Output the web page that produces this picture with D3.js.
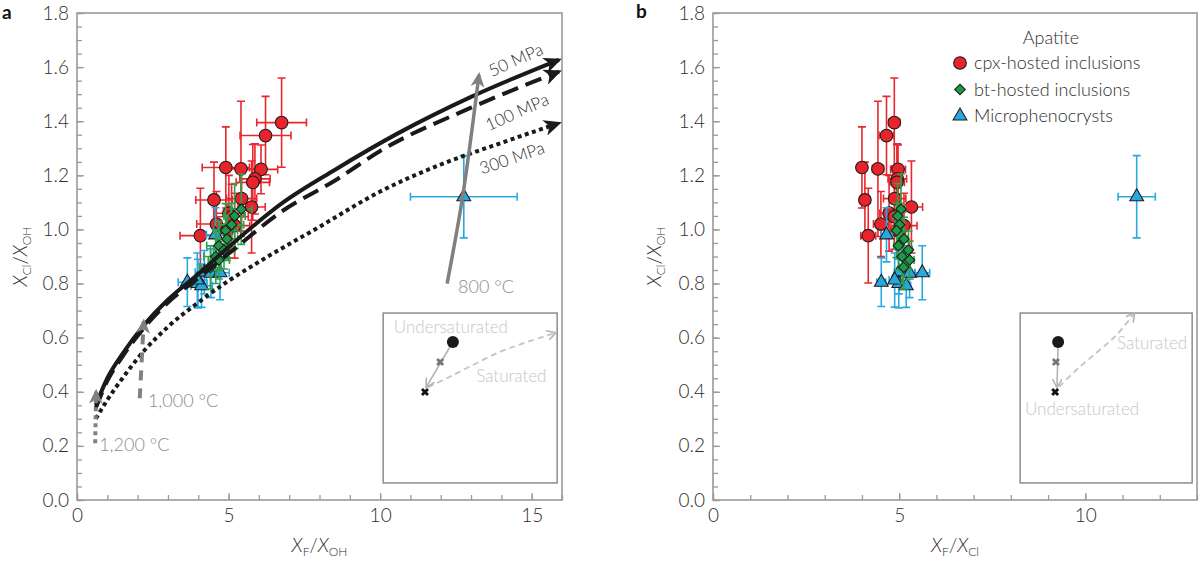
<!DOCTYPE html>
<html>
<head>
<meta charset="utf-8">
<script src="https://cdn.jsdelivr.net/npm/d3@7/dist/d3.min.js"></script>
<style>
  body { margin: 0; background: #fff; }
  svg text { font-family: Lato, "Open Sans", sans-serif; font-weight: 300; }
</style>
</head>
<body>
<svg id="chart" width="1200" height="561"></svg>
<script>
// ---- axis ticks ----
const yTicks = [0, 0.2, 0.4, 0.6, 0.8, 1.0, 1.2, 1.4, 1.6, 1.8];
const yMinor = d3.range(0, 37).map(i => i * 0.05);
const xTicksA = [0, 5, 10, 15];
const xMinorA = d3.range(0, 17);
const xTicksB = [0, 5, 10];
const xMinorB = d3.range(0, 14);

// ---- apatite, cpx-hosted inclusions ----
const cpxClOH    = [1.395, 1.347, 1.229, 1.224, 1.222, 1.187, 1.174, 1.109, 1.114, 1.083, 1.060, 1.047, 1.020, 1.014, 0.977, 0.995];
const cpxClOHErr = [0.165, 0.145, 0.15, 0.25, 0.09, 0.13, 0.14, 0.14, 0.12, 0.17, 0.14, 0.12, 0.12, 0.12, 0.175, 0.10];
const cpxFOH     = [6.75, 6.22, 4.91, 5.41, 6.07, 5.87, 5.80, 4.52, 5.43, 5.76, 5.01, 5.10, 4.60, 5.20, 4.07, 4.95];
const cpxFOHErr  = [0.82, 0.84, 0.78, 0.60, 0.55, 0.50, 0.55, 0.60, 0.50, 0.45, 0.50, 0.55, 0.65, 0.50, 0.67, 0.45];
const cpxFCl     = [4.87, 4.66, 4.00, 4.43, 4.97, 4.95, 4.94, 4.08, 4.88, 5.33, 4.73, 4.87, 4.51, 5.13, 4.17, 4.97];
const cpxFClErr  = [0.15, 0.20, 0.12, 0.15, 0.20, 0.25, 0.20, 0.13, 0.30, 0.30, 0.25, 0.20, 0.20, 0.35, 0.20, 0.20];

// ---- apatite, bt-hosted inclusions ----
const btClOH    = [1.075, 1.050, 1.017, 0.996, 0.965, 0.940, 0.924, 0.900, 0.887, 0.860];
const btClOHErr = [0.13, 0.12, 0.08, 0.10, 0.08, 0.09, 0.07, 0.10, 0.07, 0.08];
const btFOH     = [5.42, 5.20, 5.10, 4.90, 4.95, 4.68, 4.85, 4.58, 4.68, 4.40];
const btFOHErr  = [0.35, 0.35, 0.40, 0.40, 0.35, 0.40, 0.35, 0.40, 0.35, 0.35];
const btFCl     = [5.05, 4.96, 5.01, 4.93, 5.13, 4.98, 5.25, 5.08, 5.28, 5.12];
const btFClErr  = [0.12, 0.12, 0.12, 0.10, 0.10, 0.12, 0.10, 0.10, 0.12, 0.10];

// ---- apatite microphenocrysts ----
const micClOH    = [0.980, 0.842, 0.838, 0.840, 0.805, 0.800, 0.792, 0.813, 1.121];
const micClOHErr = [0.10, 0.08, 0.09, 0.10, 0.09, 0.09, 0.08, 0.10, 0.152];
const micFOH     = [4.57, 4.20, 4.42, 4.72, 3.64, 3.99, 4.11, 3.97, 12.76];
const micFOHErr  = [0.30, 0.30, 0.35, 0.30, 0.30, 0.30, 0.35, 0.30, 1.76];
const micFCl     = [4.66, 4.99, 5.28, 5.62, 4.52, 4.99, 5.19, 4.88, 11.38];
const micFClErr  = [0.15, 0.12, 0.15, 0.20, 0.12, 0.12, 0.12, 0.15, 0.50];

// ---- saturation curves (panel a) ----
const p50X  = [0.62, 1.0, 1.5, 2.2, 3.0, 4.0, 5.0, 6.8, 8.5, 10.6, 13.0, 15.9];
const p50Y  = [0.35, 0.45, 0.54, 0.645, 0.74, 0.835, 0.935, 1.10, 1.22, 1.356, 1.49, 1.627];
const p100X = [0.62, 1.0, 1.5, 2.2, 3.0, 4.0, 5.0, 6.8, 8.5, 10.0, 13.0, 15.9];
const p100Y = [0.34, 0.44, 0.53, 0.635, 0.73, 0.82, 0.91, 1.07, 1.18, 1.29, 1.45, 1.583];
const p300X = [0.62, 1.0, 1.5, 2.2, 3.0, 4.0, 5.0, 6.0, 8.0, 10.0, 12.0, 14.0, 15.9];
const p300Y = [0.30, 0.37, 0.45, 0.55, 0.64, 0.73, 0.81, 0.88, 1.01, 1.14, 1.24, 1.32, 1.393];

// ---- temperature arrows (panel a) ----
const t1200X = [0.60, 0.63];
const t1200Y = [0.21, 0.40];
const t1000X = [2.07, 2.20];
const t1000Y = [0.376, 0.66];
const t800X  = [12.21, 12.72, 13.26];
const t800Y  = [0.80, 1.12, 1.571];

// ---- schematic insets: melt -> intermediate -> final ----
const insetY   = [0.584, 0.510, 0.399];
const insetAX  = [12.40, 11.98, 11.48];
const insetBX  = [9.27, 9.21, 9.19];
const satAX = [11.59, 12.2, 12.96, 13.84, 14.72, 15.77];
const satAY = [0.417, 0.45, 0.493, 0.542, 0.579, 0.617];
const satBX = [9.3, 9.81, 10.33, 10.84, 11.31];
const satBY = [0.419, 0.487, 0.548, 0.61, 0.689];

const RED = '#e8232b', RED_E = '#e8282e';
const GREEN = '#1d9a47', GREEN_E = '#2fa24c';
const BLUE = '#29a8df', BLUE_E = '#2aa9e0';
const axisColor = '#9a9a9a';
const txt = '#2e2e2e';

const svg = d3.select('#chart');
const yScale = d3.scaleLinear().domain([0, 1.8]).range([500, 13]);
const xA = d3.scaleLinear().domain([0, 16]).range([77, 562]);
const xB = d3.scaleLinear().domain([0, 13]).range([713, 1197]);

// markers
const defs = svg.append('defs');
function head(id, color, w, h) {
    defs.append('marker').attr('id', id)
        .attr('viewBox', `0 0 ${w} ${h}`).attr('markerUnits', 'userSpaceOnUse')
        .attr('markerWidth', w).attr('markerHeight', h)
        .attr('refX', w - 3).attr('refY', h / 2).attr('orient', 'auto')
      .append('path')
        .attr('d', `M0,0 L${w},${h / 2} L0,${h} L${w * 0.28},${h / 2} Z`)
        .attr('fill', color);
}
head('hBlack', '#1a1a1a', 18, 16);
head('hGray', '#808080', 15, 14);
defs.append('marker').attr('id', 'hLight')
    .attr('viewBox', '0 0 10 10').attr('markerUnits', 'userSpaceOnUse')
    .attr('markerWidth', 10).attr('markerHeight', 10)
    .attr('refX', 8).attr('refY', 5).attr('orient', 'auto')
  .append('path').attr('d', 'M0,0 L9,5 L0,10')
    .attr('fill', 'none').attr('stroke', '#b4b4b4').attr('stroke-width', 1.6);

function axes(g, x, xMajor, xMinor) {
    const [x0, x1] = x.range();
    const y0 = yScale(0), y1 = yScale(1.8);
    g.append('rect').attr('x', x0).attr('y', y1).attr('width', x1 - x0).attr('height', y0 - y1)
        .attr('fill', 'none').attr('stroke', axisColor).attr('stroke-width', 1.6);
    g.append('g').attr('transform', `translate(0,${y0})`)
        .call(d3.axisBottom(x).tickValues(xMinor).tickSize(-5).tickFormat(''));
    g.append('g').attr('transform', `translate(0,${y0})`)
        .call(d3.axisBottom(x).tickValues(xMajor).tickSize(-7).tickPadding(9).tickFormat(d3.format('d')));
    g.append('g').attr('transform', `translate(${x0},0)`)
        .call(d3.axisLeft(yScale).tickValues(yMinor).tickSize(-5).tickFormat(''));
    g.append('g').attr('transform', `translate(${x0},0)`)
        .call(d3.axisLeft(yScale).tickValues(yTicks).tickSize(-7).tickPadding(8).tickFormat(d3.format('.1f')));
    g.selectAll('.domain').remove();
    g.selectAll('.tick line').attr('stroke', axisColor).attr('stroke-width', 1.3);
    g.selectAll('.tick text').attr('font-size', 19).attr('fill', txt);
}

function subLabel(sel, parts) {
    sel.append('tspan').attr('font-style', 'italic').text(parts[0][0]);
    sel.append('tspan').attr('font-size', 12).attr('dy', 4).text(parts[0][1]);
    sel.append('tspan').attr('dy', -4).text('/');
    sel.append('tspan').attr('font-style', 'italic').text(parts[1][0]);
    sel.append('tspan').attr('font-size', 12).attr('dy', 4).text(parts[1][1]);
}

function titles(g, x, xParts, yx) {
    const [x0, x1] = x.range();
    const tx = g.append('text').attr('x', (x0 + x1) / 2).attr('y', 552)
        .attr('text-anchor', 'middle').attr('font-size', 19).attr('fill', txt);
    subLabel(tx, xParts);
    const ty = g.append('text').attr('transform', `translate(${yx},${(yScale(0) + yScale(1.8)) / 2}) rotate(-90)`)
        .attr('text-anchor', 'middle').attr('font-size', 19).attr('fill', txt);
    subLabel(ty, [['X', 'Cl'], ['X', 'OH']]);
}

function errors(g, x, xs, xe, ys, ye, color) {
    const eg = g.append('g').attr('stroke', color).attr('stroke-width', 1.6).attr('fill', 'none');
    const c = 4;
    d3.range(xs.length).forEach(i => {
        const cx = x(xs[i]), cy = yScale(ys[i]);
        const xl = x(xs[i] - xe[i]), xr = x(xs[i] + xe[i]);
        const yt = yScale(ys[i] + ye[i]), yb = yScale(ys[i] - ye[i]);
        eg.append('path').attr('d',
            `M${xl},${cy}H${xr}M${xl},${cy - c}V${cy + c}M${xr},${cy - c}V${cy + c}` +
            `M${cx},${yt}V${yb}M${cx - c},${yt}H${cx + c}M${cx - c},${yb}H${cx + c}`);
    });
}

const symCircle = d3.symbol(d3.symbolCircle, 125);
const symDiamond = d3.symbol(d3.symbolSquare, 56);
const symTriangle = d3.symbol(d3.symbolTriangle, 82);

function points(g, x, xs, ys, sym, fill, rot) {
    g.append('g').selectAll('path').data(d3.range(xs.length)).join('path')
        .attr('d', sym)
        .attr('transform', i => `translate(${x(xs[i])},${yScale(ys[i])}) rotate(${rot})`)
        .attr('fill', fill).attr('stroke', '#1e1e1e').attr('stroke-width', 1.1);
}

function dataLayer(g, x, cpxX, cpxXE, btX, btXE, micX, micXE) {
    errors(g, x, cpxX, cpxXE, cpxClOH, cpxClOHErr, RED_E);
    points(g, x, cpxX, cpxClOH, symCircle, RED, 0);
    errors(g, x, micX, micXE, micClOH, micClOHErr, BLUE_E);
    points(g, x, micX, micClOH, symTriangle, BLUE, 0);
    errors(g, x, btX, btXE, btClOH, btClOHErr, GREEN_E);
    points(g, x, btX, btClOH, symDiamond, GREEN, 45);
}

function inset(g, x, x0, x1, ix, satX, satY) {
    g.append('rect').attr('x', x(x0)).attr('y', yScale(0.691))
        .attr('width', x(x1) - x(x0)).attr('height', yScale(0.063) - yScale(0.691))
        .attr('fill', '#fff').attr('stroke', '#8c8c8c').attr('stroke-width', 1.5);
    const sat = d3.line().x((d, i) => x(satX[i])).y((d, i) => yScale(satY[i])).curve(d3.curveCatmullRom);
    g.append('path').attr('d', sat(satX)).attr('fill', 'none')
        .attr('stroke', '#c4c4c4').attr('stroke-width', 1.8).attr('stroke-dasharray', '6,4')
        .attr('marker-end', 'url(#hLight)');
    g.append('line')
        .attr('x1', x(ix[0])).attr('y1', yScale(insetY[0]))
        .attr('x2', x(ix[2] + 0.05)).attr('y2', yScale(insetY[2] + 0.02))
        .attr('stroke', '#b4b4b4').attr('stroke-width', 1.6).attr('marker-end', 'url(#hLight)');
    g.append('circle').attr('cx', x(ix[0])).attr('cy', yScale(insetY[0])).attr('r', 6).attr('fill', '#1a1a1a');
    const cross = d3.symbol(d3.symbolCross, 40);
    g.append('path').attr('d', cross).attr('transform', `translate(${x(ix[1])},${yScale(insetY[1])}) rotate(45)`)
        .attr('fill', '#777');
    g.append('path').attr('d', cross).attr('transform', `translate(${x(ix[2])},${yScale(insetY[2])}) rotate(45)`)
        .attr('fill', '#111');
}

function insetText(g, px, py, s) {
    g.append('text').attr('x', px).attr('y', py).attr('dy', '0.35em')
        .attr('font-size', 17).attr('fill', '#c6c6c6').text(s);
}

// ================= panel a =================
const gA = svg.append('g');
axes(gA, xA, xTicksA, xMinorA);
titles(gA, xA, [['X', 'F'], ['X', 'OH']], 27);
inset(gA, xA, 10.1, 15.84, insetAX, satAX, satAY);
insetText(gA, xA(10.45), yScale(0.638), 'Undersaturated');
insetText(gA, xA(13.17), yScale(0.458), 'Saturated');

dataLayer(gA, xA, cpxFOH, cpxFOHErr, btFOH, btFOHErr, micFOH, micFOHErr);

const curve = (xs, ys) => d3.line().x((d, i) => xA(xs[i])).y((d, i) => yScale(ys[i])).curve(d3.curveMonotoneX)(xs);
gA.append('path').attr('d', curve(p300X, p300Y)).attr('fill', 'none').attr('stroke', '#1a1a1a')
    .attr('stroke-width', 4).attr('stroke-dasharray', '4,3.5').attr('marker-end', 'url(#hBlack)');
gA.append('path').attr('d', curve(p100X, p100Y)).attr('fill', 'none').attr('stroke', '#1a1a1a')
    .attr('stroke-width', 4).attr('stroke-dasharray', '17,8').attr('marker-end', 'url(#hBlack)');
gA.append('path').attr('d', curve(p50X, p50Y)).attr('fill', 'none').attr('stroke', '#1a1a1a')
    .attr('stroke-width', 4).attr('marker-end', 'url(#hBlack)');

const tLine = (xs, ys) => d3.line().x((d, i) => xA(xs[i])).y((d, i) => yScale(ys[i])).curve(d3.curveCatmullRom)(xs);
gA.append('path').attr('d', tLine(t1200X, t1200Y)).attr('fill', 'none').attr('stroke', '#808080')
    .attr('stroke-width', 4).attr('stroke-dasharray', '4,4').attr('marker-end', 'url(#hGray)');
gA.append('path').attr('d', tLine(t1000X, t1000Y)).attr('fill', 'none').attr('stroke', '#808080')
    .attr('stroke-width', 4).attr('stroke-dasharray', '10,8').attr('marker-end', 'url(#hGray)');
gA.append('path').attr('d', tLine(t800X, t800Y)).attr('fill', 'none').attr('stroke', '#808080')
    .attr('stroke-width', 3.5).attr('marker-end', 'url(#hGray)');

function tLabel(x, y, s) {
    gA.append('text').attr('x', xA(x)).attr('y', yScale(y)).attr('dy', '0.35em')
        .attr('font-size', 18).attr('fill', '#8c8c8c').text(s);
}
tLabel(0.73, 0.203, '1,200 °C');
tLabel(2.34, 0.366, '1,000 °C');
tLabel(12.57, 0.787, '800 °C');

function pLabel(x, y, rot, s) {
    gA.append('text').attr('transform', `translate(${xA(x)},${yScale(y)}) rotate(${rot})`)
        .attr('text-anchor', 'middle').attr('dy', '0.35em')
        .attr('font-size', 17).attr('fill', txt).text(s);
}
pLabel(14.48, 1.627, -24, '50 MPa');
pLabel(14.52, 1.434, -24, '100 MPa');
pLabel(14.35, 1.264, -19, '300 MPa');

gA.append('text').attr('x', 2).attr('y', 19).attr('font-size', 19)
    .style('font-weight', 700).attr('fill', '#111').text('a');

// ================= panel b =================
const gB = svg.append('g');
axes(gB, xB, xTicksB, xMinorB);
titles(gB, xB, [['X', 'F'], ['X', 'Cl']], 661);
inset(gB, xB, 8.25, 12.87, insetBX, satBX, satBY);
insetText(gB, xB(10.85), yScale(0.581), 'Saturated');
insetText(gB, xB(8.38), yScale(0.335), 'Undersaturated');

dataLayer(gB, xB, cpxFCl, cpxFClErr, btFCl, btFClErr, micFCl, micFClErr);

gB.append('text').attr('x', 636).attr('y', 18).attr('font-size', 19)
    .style('font-weight', 700).attr('fill', '#111').text('b');

// legend
const legend = gB.append('g').attr('transform', 'translate(960,0)');
legend.append('text').attr('x', 91).attr('y', 38).attr('dy', '0.35em').attr('text-anchor', 'middle')
    .attr('font-size', 18).attr('fill', txt).text('Apatite');
const legItems = [
    ['cpx-hosted inclusions', symCircle, RED, 0],
    ['bt-hosted inclusions', symDiamond, GREEN, 45],
    ['Microphenocrysts', symTriangle, BLUE, 0]
];
legItems.forEach((it, i) => {
    const ly = 63 + i * 26.5;
    legend.append('path').attr('d', it[1]).attr('transform', `translate(0,${ly}) rotate(${it[3]})`)
        .attr('fill', it[2]).attr('stroke', '#1e1e1e').attr('stroke-width', 1.1);
    legend.append('text').attr('x', 14).attr('y', ly).attr('dy', '0.35em')
        .attr('font-size', 18).attr('fill', txt).text(it[0]);
});
</script>
</body>
</html>
